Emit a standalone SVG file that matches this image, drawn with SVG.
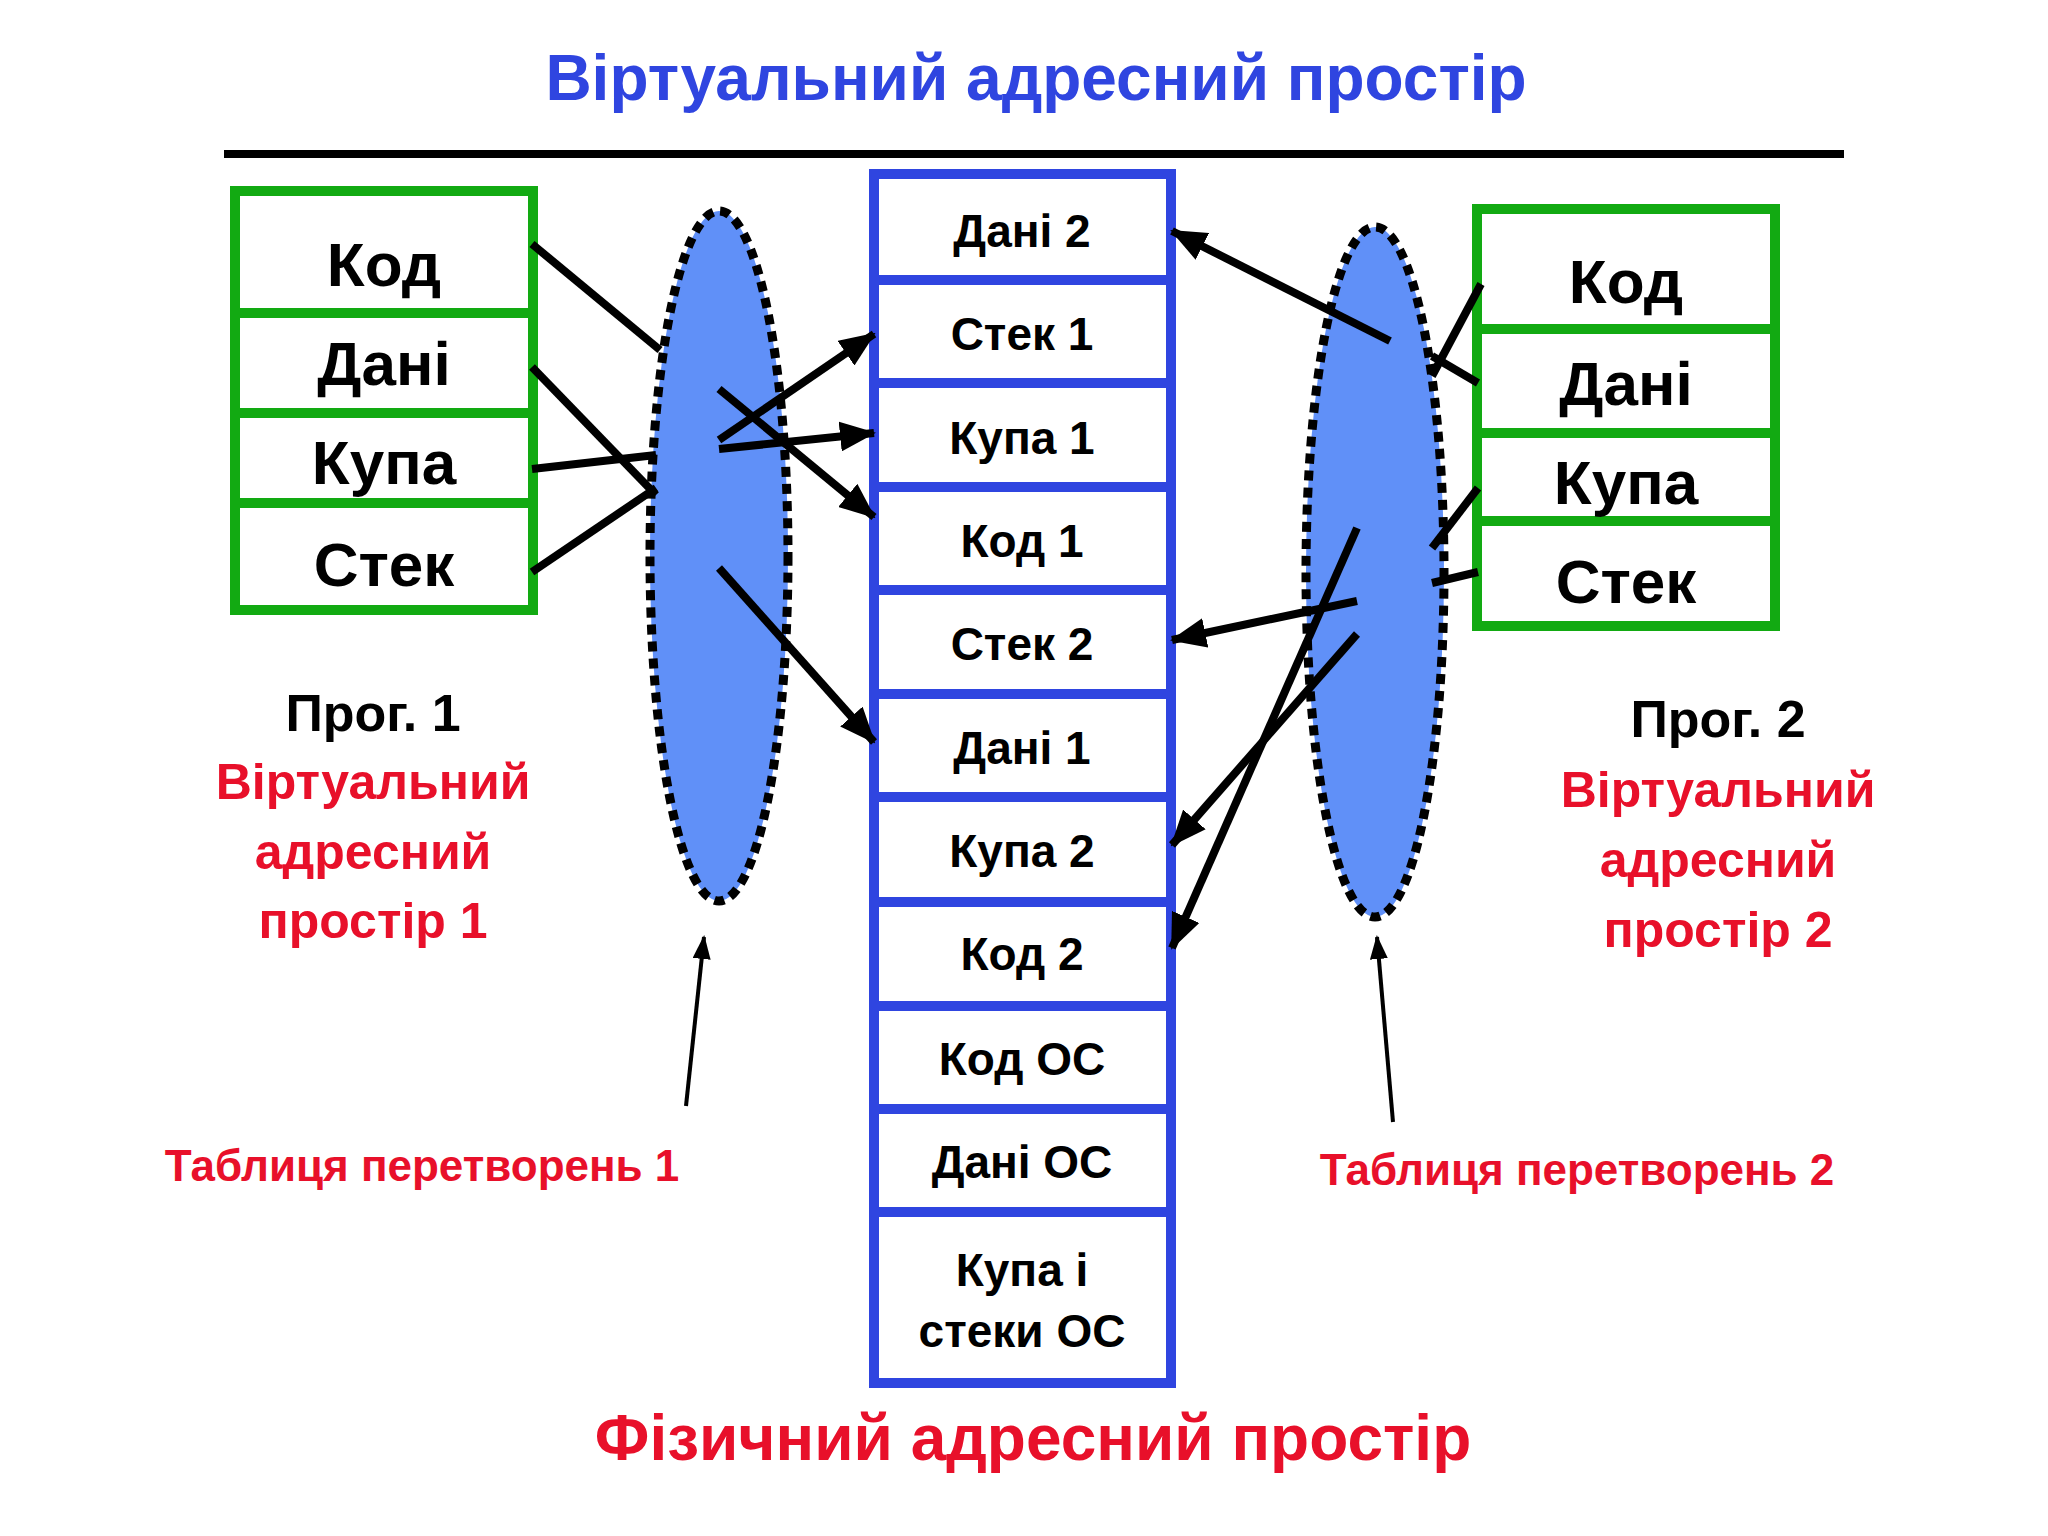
<svg xmlns="http://www.w3.org/2000/svg" width="2048" height="1536" viewBox="0 0 2048 1536">
<style>
text{font-family:"Liberation Sans","DejaVu Sans",sans-serif;font-weight:bold;text-anchor:middle}
.g{fill:#fff;stroke:#12aa12;stroke-width:10}
.b{fill:#fff;stroke:#2f45e0;stroke-width:10}
.big{font-size:62px;fill:#000}
.mid{font-size:46px;fill:#000}
.red{fill:#e8102a;font-size:50px}
.ell{fill:#6090f8;stroke:#000;stroke-width:9;stroke-dasharray:10 7}
.m{stroke:#000;stroke-width:8;fill:none}
.p{stroke:#000;stroke-width:4;fill:none}
</style>
<defs>
<marker id="ah" markerUnits="userSpaceOnUse" markerWidth="36" markerHeight="30" refX="34" refY="15" orient="auto"><path d="M0,0 L36,15 L0,30 Z" fill="#000"/></marker>
<marker id="as" markerUnits="userSpaceOnUse" markerWidth="24" markerHeight="18" refX="22" refY="9" orient="auto"><path d="M0,0 L24,9 L0,18 Z" fill="#000"/></marker>
</defs>
<rect width="2048" height="1536" fill="#fff"/>
<text x="1036" y="100" style="font-size:64px;fill:#2f45e0">Віртуальний адресний простір</text>
<line x1="224" y1="154" x2="1844" y2="154" stroke="#000" stroke-width="8"/>
<g id="tables">
<ellipse id="table1" class="ell" cx="719" cy="556" rx="69" ry="345"/>
<ellipse id="table2" class="ell" cx="1375" cy="572" rx="69" ry="345"/>
</g>
<g id="prog1">
<rect class="g" x="235" y="191" width="298" height="122"/>
<rect class="g" x="235" y="313" width="298" height="100"/>
<rect class="g" x="235" y="413" width="298" height="90"/>
<rect class="g" x="235" y="503" width="298" height="107"/>
<text class="big" x="384" y="286">Код</text>
<text class="big" x="384" y="385">Дані</text>
<text class="big" x="384" y="484">Купа</text>
<text class="big" x="384" y="586">Стек</text>
</g>
<g id="prog2">
<rect class="g" x="1477" y="209" width="298" height="120"/>
<rect class="g" x="1477" y="329" width="298" height="104"/>
<rect class="g" x="1477" y="433" width="298" height="88"/>
<rect class="g" x="1477" y="521" width="298" height="105"/>
<text class="big" x="1626" y="303">Код</text>
<text class="big" x="1626" y="405">Дані</text>
<text class="big" x="1626" y="504">Купа</text>
<text class="big" x="1626" y="603">Стек</text>
</g>
<g id="physical">
<rect class="b" x="874" y="174" width="297" height="106"/>
<rect class="b" x="874" y="280" width="297" height="103"/>
<rect class="b" x="874" y="383" width="297" height="104"/>
<rect class="b" x="874" y="487" width="297" height="103"/>
<rect class="b" x="874" y="590" width="297" height="104"/>
<rect class="b" x="874" y="694" width="297" height="103"/>
<rect class="b" x="874" y="797" width="297" height="105"/>
<rect class="b" x="874" y="902" width="297" height="104"/>
<rect class="b" x="874" y="1006" width="297" height="103"/>
<rect class="b" x="874" y="1109" width="297" height="103"/>
<rect class="b" x="874" y="1212" width="297" height="171"/>
<text class="mid" x="1022" y="247">Дані 2</text>
<text class="mid" x="1022" y="350">Стек 1</text>
<text class="mid" x="1022" y="454">Купа 1</text>
<text class="mid" x="1022" y="557">Код 1</text>
<text class="mid" x="1022" y="660">Стек 2</text>
<text class="mid" x="1022" y="764">Дані 1</text>
<text class="mid" x="1022" y="867">Купа 2</text>
<text class="mid" x="1022" y="970">Код 2</text>
<text class="mid" x="1022" y="1075">Код ОС</text>
<text class="mid" x="1022" y="1178">Дані ОС</text>
<text class="mid" x="1022" y="1286">Купа і</text>
<text class="mid" x="1022" y="1347">стеки ОС</text>
</g>
<g id="labels">
<text x="373" y="731" style="font-size:52px;fill:#000">Прог. 1</text>
<text class="red" x="373" y="799">Віртуальний</text>
<text class="red" x="373" y="869">адресний</text>
<text class="red" x="373" y="938">простір 1</text>
<text x="1718" y="737" style="font-size:52px;fill:#000">Прог. 2</text>
<text class="red" x="1718" y="807">Віртуальний</text>
<text class="red" x="1718" y="877">адресний</text>
<text class="red" x="1718" y="947">простір 2</text>
<text class="red" x="422" y="1181" style="font-size:44px">Таблиця перетворень 1</text>
<text class="red" x="1577" y="1185" style="font-size:44px">Таблиця перетворень 2</text>
<text x="1033" y="1460" style="font-size:64px;fill:#e8102a">Фізичний адресний простір</text>
</g>
<g id="connectors">
<line class="m" x1="532" y1="244" x2="660" y2="350"/>
<line class="m" x1="719" y1="389" x2="874" y2="517" marker-end="url(#ah)"/>
<line class="m" x1="532" y1="367" x2="656" y2="495"/>
<line class="m" x1="719" y1="568" x2="874" y2="742" marker-end="url(#ah)"/>
<line class="m" x1="532" y1="469" x2="656" y2="455"/>
<line class="m" x1="719" y1="449" x2="874" y2="433" marker-end="url(#ah)"/>
<line class="m" x1="532" y1="572" x2="656" y2="488"/>
<line class="m" x1="719" y1="440" x2="874" y2="334" marker-end="url(#ah)"/>
<line class="m" x1="1481" y1="284" x2="1432" y2="376"/>
<line class="m" x1="1357" y1="528" x2="1172" y2="948" marker-end="url(#ah)"/>
<line class="m" x1="1478" y1="383" x2="1432" y2="356"/>
<line class="m" x1="1390" y1="341" x2="1172" y2="231" marker-end="url(#ah)"/>
<line class="m" x1="1478" y1="488" x2="1432" y2="548"/>
<line class="m" x1="1357" y1="634" x2="1172" y2="845" marker-end="url(#ah)"/>
<line class="m" x1="1478" y1="572" x2="1432" y2="583"/>
<line class="m" x1="1357" y1="601" x2="1172" y2="640" marker-end="url(#ah)"/>
<line class="p" x1="686" y1="1106" x2="704" y2="937" marker-end="url(#as)"/>
<line class="p" x1="1393" y1="1122" x2="1377" y2="937" marker-end="url(#as)"/>
</g>
</svg>
